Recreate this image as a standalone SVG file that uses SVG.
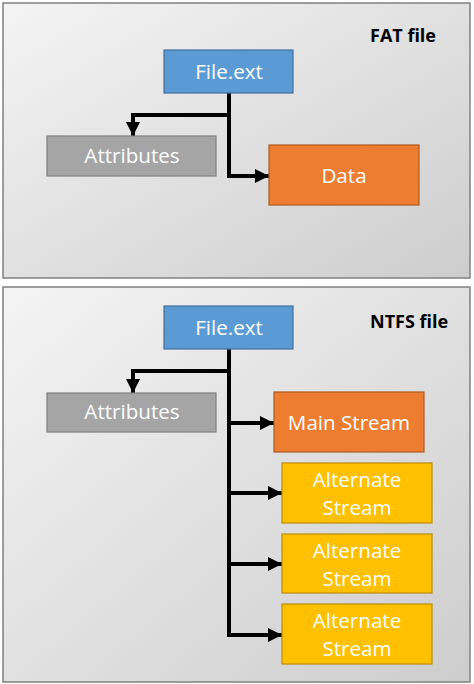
<svg xmlns="http://www.w3.org/2000/svg" width="474" height="684" viewBox="0 0 474 684">
<style>
.panel{stroke:#808080;stroke-width:1.5}
.lbl{font-family:"Open Sans","Noto Sans","Liberation Sans",sans-serif;font-size:20.6px;fill:#ffffff;text-anchor:middle}
.ttl{font-family:"Open Sans","Noto Sans","Liberation Sans",sans-serif;font-size:18px;font-weight:bold;fill:#000000}
.blue{fill:#5B9BD5;stroke:#41719C;stroke-width:1.2}
.gray{fill:#A5A5A5;stroke:#7F7F7F;stroke-width:1.2}
.orange{fill:#ED7D31;stroke:#AE5A21;stroke-width:1.2}
.gold{fill:#FFC000;stroke:#BC8C00;stroke-width:1.2}
.conn{fill:none;stroke:#000000;stroke-width:4;stroke-linejoin:miter}
</style>
<defs>
<linearGradient id="bg" x1="0" y1="0" x2="1" y2="1">
<stop offset="0" stop-color="#f4f4f4"/>
<stop offset="1" stop-color="#cdcdcd"/>
</linearGradient>
<marker id="arr" markerUnits="userSpaceOnUse" markerWidth="14" markerHeight="14" viewBox="0 0 14 14" refX="14" refY="7" orient="auto">
<path d="M0,0 L14,7 L0,14 Z" fill="#000000"/>
</marker>
</defs>
<rect width="474" height="684" fill="#ffffff"/>
<g id="fat-panel">
<rect class="panel" x="3" y="3" width="467" height="275" fill="url(#bg)"/>
<text class="ttl" x="370" y="42">FAT file</text>
</g>
<g id="ntfs-panel">
<rect class="panel" x="3" y="287" width="467" height="395" fill="url(#bg)"/>
<text class="ttl" x="370" y="328">NTFS file</text>
</g>
<g id="connectors">
<path class="conn" d="M229,93 V115 H133 V136" marker-end="url(#arr)"/>
<path class="conn" d="M229,113 V176 H269" marker-end="url(#arr)"/>
<path class="conn" d="M229,349 V371 H133 V393" marker-end="url(#arr)"/>
<path class="conn" d="M229,369 V423 H274" marker-end="url(#arr)"/>
<path class="conn" d="M229,421 V493 H282" marker-end="url(#arr)"/>
<path class="conn" d="M229,491 V564 H282" marker-end="url(#arr)"/>
<path class="conn" d="M229,562 V635 H282" marker-end="url(#arr)"/>
</g>
<g id="fat-file">
<rect class="blue" x="164" y="50" width="129" height="43"/>
<text class="lbl" x="229" y="79">File.ext</text>
</g>
<g id="fat-attributes">
<rect class="gray" x="47" y="136" width="169" height="40"/>
<text class="lbl" x="132" y="163">Attributes</text>
</g>
<g id="fat-data">
<rect class="orange" x="269" y="145" width="150" height="60"/>
<text class="lbl" x="344" y="183">Data</text>
</g>
<g id="ntfs-file">
<rect class="blue" x="164" y="306" width="129" height="43"/>
<text class="lbl" x="229" y="335">File.ext</text>
</g>
<g id="ntfs-attributes">
<rect class="gray" x="47" y="393" width="169" height="39"/>
<text class="lbl" x="132" y="419">Attributes</text>
</g>
<g id="main-stream">
<rect class="orange" x="274" y="392" width="150" height="60"/>
<text class="lbl" x="349" y="430">Main Stream</text>
</g>
<g id="alt-stream-1">
<rect class="gold" x="282" y="463" width="150" height="60"/>
<text class="lbl" x="357" y="487">Alternate</text>
<text class="lbl" x="357" y="515">Stream</text>
</g>
<g id="alt-stream-2">
<rect class="gold" x="282" y="534" width="150" height="59"/>
<text class="lbl" x="357" y="558">Alternate</text>
<text class="lbl" x="357" y="586">Stream</text>
</g>
<g id="alt-stream-3">
<rect class="gold" x="282" y="604" width="150" height="60"/>
<text class="lbl" x="357" y="628">Alternate</text>
<text class="lbl" x="357" y="656">Stream</text>
</g>
</svg>
